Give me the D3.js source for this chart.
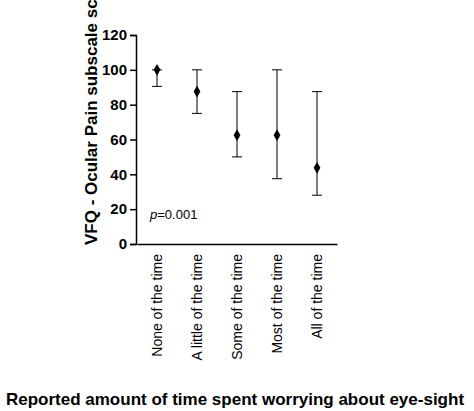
<!DOCTYPE html>
<html><head><meta charset="utf-8">
<script src="https://cdn.jsdelivr.net/npm/d3@7"></script>
<style>body{margin:0;background:#fff}</style></head>
<body><svg id="c" width="474" height="411"></svg>
<script>
const categories=["None of the time","A little of the time","Some of the time","Most of the time","All of the time"];
const medians=[100,87.5,62.5,62.5,43.75];
const lows=[90.5,75,50,37.5,28];
const highs=[100,100,87.5,100,87.5];
const yTicks=[0,20,40,60,80,100,120];

const svg=d3.select("#c");
const y=d3.scaleLinear().domain([0,120]).range([244,35]);
const x=d3.scaleBand().domain(categories).range([137,337]).padding(0);
const g=svg.append("g").attr("font-family","Liberation Sans, Arial, sans-serif");

const ya=g.append("g").attr("transform","translate(136,0)").call(d3.axisLeft(y).tickValues(yTicks).tickSize(6).tickPadding(3));
ya.selectAll("text").attr("font-size",15).attr("font-weight","bold").attr("fill","#000");
ya.selectAll("line,path").attr("stroke","#000").attr("stroke-width",1.5);

const xa=g.append("g").attr("transform","translate(0,244)").call(d3.axisBottom(x).tickSize(0).tickFormat(""));
xa.select("path").attr("stroke","#000").attr("stroke-width",1.5);

categories.forEach((c,i)=>{
  const cx=x(c)+x.bandwidth()/2;
  g.append("text").attr("transform",`translate(${cx+5},254) rotate(-90)`).attr("text-anchor","end")
   .attr("font-size",14).attr("fill","#000").text(c);
  g.append("line").attr("x1",cx).attr("x2",cx).attr("y1",y(lows[i])).attr("y2",y(highs[i])).attr("stroke","#000");
  [lows[i],highs[i]].forEach(v=>g.append("line").attr("x1",cx-5).attr("x2",cx+5).attr("y1",y(v)).attr("y2",y(v)).attr("stroke","#000"));
  g.append("path").attr("d",d3.symbol(d3.symbolDiamond,40)()).attr("transform",`translate(${cx},${y(medians[i])})`).attr("fill","#000");
});

g.append("text").attr("x",150).attr("y",219).attr("font-size",13).attr("fill","#000")
 .html('<tspan font-style="italic">p</tspan>=0.001');
g.append("text").attr("transform","translate(97,245) rotate(-90)").attr("text-anchor","start")
 .attr("font-size",17).attr("font-weight","bold").attr("fill","#000").text("VFQ - Ocular Pain subscale score");
g.append("text").attr("x",235).attr("y",405).attr("text-anchor","middle")
 .attr("font-size",17).attr("font-weight","bold").attr("fill","#000").text("Reported amount of time spent worrying about eye-sight");
</script></body></html>
